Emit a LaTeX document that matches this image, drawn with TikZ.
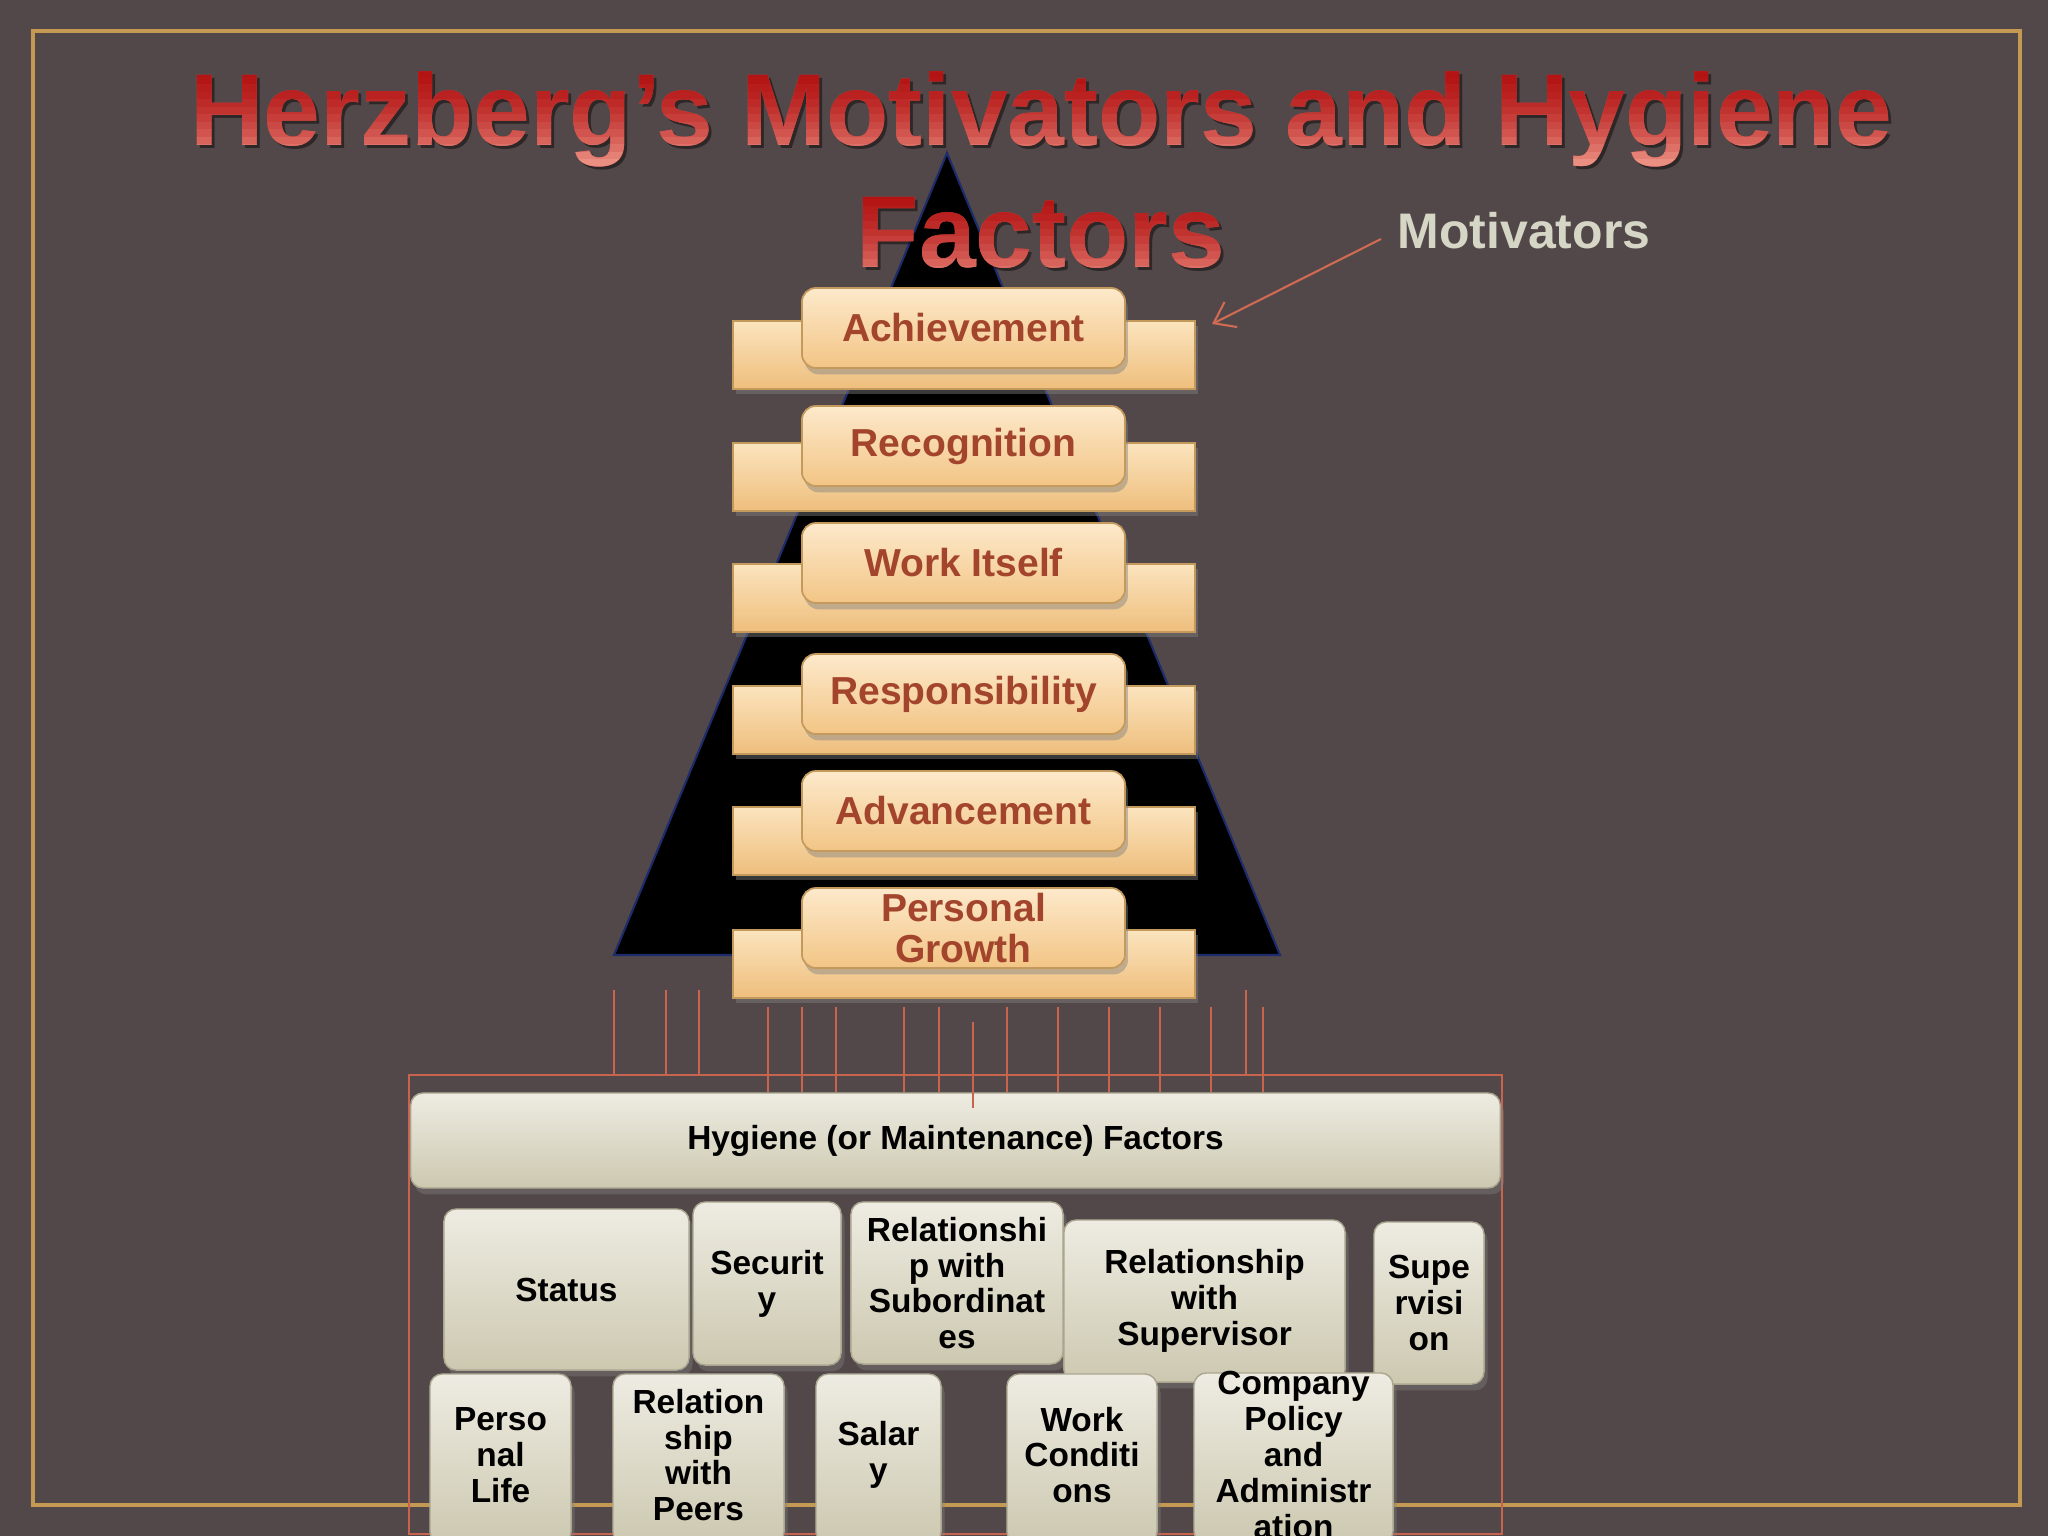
\documentclass[tikz,border=0pt]{standalone}
\usepackage{fontspec}
\setmainfont{Liberation Sans}
\usetikzlibrary{shadows,arrows.meta}

\definecolor{bgc}{HTML}{534849}
\definecolor{goldc}{HTML}{C49A52}
\definecolor{pyrline}{HTML}{1C2C6C}
\definecolor{tdark}{HTML}{B21212}
\definecolor{tlight}{HTML}{F6A898}
\definecolor{tmid}{HTML}{D84A40}
\definecolor{motc}{HTML}{D6D6C6}
\definecolor{arrc}{HTML}{D06A52}
\definecolor{peachtop}{HTML}{FDE9CB}
\definecolor{peachbot}{HTML}{F2C585}
\definecolor{peachdraw}{HTML}{C49A5C}
\definecolor{bartop}{HTML}{FBE4BE}
\definecolor{barbot}{HTML}{EEBE7C}
\definecolor{mtext}{HTML}{A2452C}
\definecolor{hytop}{HTML}{EEECE2}
\definecolor{hybot}{HTML}{CCC8B0}
\definecolor{hydraw}{HTML}{A9A58F}
\definecolor{redline}{HTML}{C8644E}

\begin{document}
\begin{tikzpicture}[x=0.01cm,y=-0.01cm,
  bar/.style={draw=peachdraw, line width=0.5pt, top color=bartop, bottom color=barbot,
    minimum width=4.62cm, minimum height=0.68cm, inner sep=0pt,
    drop shadow={opacity=0.45, shadow xshift=0.8pt, shadow yshift=-1.5pt}},
  mbox/.style={draw=peachdraw, line width=0.5pt, rounded corners=4pt, top color=peachtop,
    bottom color=peachbot, minimum width=3.23cm, minimum height=0.80cm, inner sep=0pt,
    text=mtext, font=\fontsize{11.1}{11.4}\selectfont\bfseries, align=center,
    drop shadow={opacity=0.45, shadow xshift=0.8pt, shadow yshift=-1.8pt}},
  hbox/.style={draw=hydraw, line width=0.4pt, rounded corners=3.5pt, top color=hytop,
    bottom color=hybot, inner sep=0pt,
    drop shadow={opacity=0.4, shadow xshift=1pt, shadow yshift=-1.8pt}},
  htext/.style={font=\fontsize{9.5}{10.2}\selectfont\bfseries, align=center, text=black, inner sep=0pt},
  titlefont/.style={font=\fontsize{29}{35}\selectfont\bfseries, anchor=base, inner sep=0pt},
  vline/.style={redline, line width=0.45pt},
]
\useasboundingbox (0,0) rectangle (2048,1536);
\clip (0,0) rectangle (2048,1536);
\fill[bgc] (0,0) rectangle (2048,1536);

% gold frame
\draw[goldc, line width=1.2pt] (33,31) rectangle (2020,1505);

% pyramid
\coordinate (pyrtop) at (947,153);
\coordinate (pyrleft) at (614,955);
\coordinate (pyrright) at (1280,955);
\filldraw[fill=black, draw=pyrline, line width=0.6pt] (pyrtop) -- (pyrleft) -- (pyrright) -- cycle;

% title with banded gradient
\node[titlefont, text=black, opacity=0.45] (tshadow1) at (1044,148) {Herzberg’s Motivators and Hygiene};
\node[titlefont, text=black, opacity=0.45] (tshadow2) at (1044,270) {Factors};
\node[titlefont, text=tmid] (tbase1) at (1041,145) {Herzberg’s Motivators and Hygiene};
\node[titlefont, text=tmid] (tbase2) at (1041,267) {Factors};
\foreach \i in {0,...,15}{
  \pgfmathsetmacro{\ya}{62+\i*7.5}
  \pgfmathsetmacro{\yb}{\ya+7.6}
  \pgfmathsetmacro{\tfr}{max(0.001,min(1,(\ya+3.75-70)/105))}
  \pgfmathtruncatemacro{\pct}{100*(1-\tfr^1.6)}
  \begin{scope}
    \clip (0,\ya) rectangle (2048,\yb);
    \node[titlefont, text=tdark!\pct!tlight] (tla\i) at (1041,145) {Herzberg’s Motivators and Hygiene};
  \end{scope}
  \begin{scope}
    \clip (0,\ya+122) rectangle (2048,\yb+122);
    \node[titlefont, text=tdark!\pct!tlight] (tlb\i) at (1041,267) {Factors};
  \end{scope}
}

% motivator bars and boxes
\node[bar] (bar1) at (964,355) {};
\node[mbox] (m1) at (963.5,328) {Achievement};
\node[bar] (bar2) at (964,477) {};
\node[mbox] (m2) at (963.5,446) {Recognition};
\node[bar] (bar3) at (964,598) {};
\node[mbox] (m3) at (963.5,563) {Work Itself};
\node[bar] (bar4) at (964,720) {};
\node[mbox] (m4) at (963.5,694) {Responsibility};
\node[bar] (bar5) at (964,841) {};
\node[mbox] (m5) at (963.5,811) {Advancement};
\node[bar] (bar6) at (964,964) {};
\node[mbox] (m6) at (963.5,928) {Personal\\Growth};

% Motivators label and arrow
\node[font=\fontsize{14.2}{17}\selectfont\bfseries, text=motc, anchor=base west, inner sep=0pt] (motlabel) at (1397,248) {Motivators};
\coordinate (motarrowstart) at (1381,239);
\coordinate (motarrowend) at (1212,324);
\draw[arrc, line width=0.6pt, -{Straight Barb[length=5.5pt,width=8pt]}] (motarrowstart) -- (motarrowend);

% red frame
\draw[redline, line width=0.6pt] (409,1075) rectangle (1502,1534);

% hygiene header
\node[hbox, minimum width=10.89cm, minimum height=0.95cm] (hhead) at (955.5,1140.5) {};
\node[htext] (hheadtext) at (hhead.center) {Hygiene (or Maintenance) Factors};

% vertical lines
\foreach \xx in {614,666,699,1246}{ \draw[vline] (\xx,990) -- (\xx,1075); }
\foreach \xx in {768,802,836,904,939,1007,1058,1109,1160,1211,1263}{ \draw[vline] (\xx,1007) -- (\xx,1092); }
\draw[vline] (973,1022) -- (973,1108);

% hygiene boxes row 1
\node[hbox, minimum width=2.45cm, minimum height=1.61cm] (hstatus) at (566.5,1289.5) {};
\node[hbox, minimum width=1.48cm, minimum height=1.63cm] (hsecur) at (767,1283.5) {};
\node[hbox, minimum width=2.12cm, minimum height=1.62cm] (hrelsub) at (957,1283) {};
\node[hbox, minimum width=2.81cm, minimum height=1.62cm] (hrelsup) at (1204.5,1301) {};
\node[hbox, minimum width=1.10cm, minimum height=1.62cm] (hsuperv) at (1429,1303) {};
% row 2
\node[hbox, minimum width=1.41cm, minimum height=1.70cm] (hperslife) at (500.5,1459) {};
\node[hbox, minimum width=1.71cm, minimum height=1.70cm] (hrelpeers) at (698.5,1459) {};
\node[hbox, minimum width=1.25cm, minimum height=1.70cm] (hsalary) at (878.5,1459) {};
\node[hbox, minimum width=1.50cm, minimum height=1.70cm] (hworkcond) at (1082,1459) {};
\node[hbox, minimum width=1.99cm, minimum height=1.70cm] (hcompany) at (1293.5,1458) {};

% texts
\node[htext] (tstatus) at (hstatus.center) {Status};
\node[htext] (tsecur) at (hsecur.center) {Securit\\y};
\node[htext] (trelsub) at (hrelsub.center) {Relationshi\\p with\\Subordinat\\es};
\node[htext] (trelsup) at (hrelsup.center) {Relationship\\with\\Supervisor};
\node[htext] (tsuperv) at (hsuperv.center) {Supe\\rvisi\\on};
\node[htext] (tperslife) at (500.5,1455) {Perso\\nal\\Life};
\node[htext] (trelpeers) at (698.5,1455) {Relation\\ship\\with\\Peers};
\node[htext] (tsalary) at (878.5,1455) {Salar\\y};
\node[htext] (tworkcond) at (1082,1455) {Work\\Conditi\\ons};
\node[htext] (tcompany) at (1293.5,1455) {Company\\Policy\\and\\Administr\\ation};
\end{tikzpicture}
\end{document}
